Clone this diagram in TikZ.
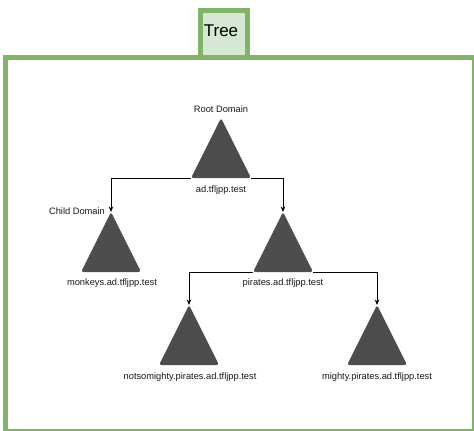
\documentclass[tikz,border=0pt]{standalone}
\usepackage{fontspec}
\setmainfont{Liberation Sans}
\usetikzlibrary{arrows.meta}
\definecolor{gborder}{HTML}{82B366}
\definecolor{gfill}{HTML}{D5E8D4}
\definecolor{trigray}{HTML}{4D4D4D}
\begin{document}
\begin{tikzpicture}[x=1pt,y=-1pt,
  tri/.style={fill=trigray,rounded corners=2.5pt},
  lbl/.style={inner sep=0pt,font=\fontsize{9.3}{11}\selectfont,text=black!90},
  conn/.style={draw=black,line width=0.8pt,-{Stealth[length=5.5pt,width=4.5pt]}},
  frame/.style={draw=gborder,line width=5pt}]
\useasboundingbox (0,0) rectangle (474,431);
% tab and main frame
\node[frame,fill=gfill,minimum width=47pt,minimum height=47pt,inner sep=0pt,anchor=north west,
  font=\fontsize{17}{20}\selectfont] (tab) at (197.5,7.5) {};
\node at (221,31) {\fontsize{17}{20}\selectfont Tree};
\node[frame,fill=white,minimum width=469pt,minimum height=374pt,inner sep=0pt,anchor=north west] (main) at (2.5,54.5) {};
% triangles: apex (A), left base (L), right base (R)
\coordinate (rA) at (221,118); \coordinate (rL) at (191,178); \coordinate (rR) at (251,178);
\coordinate (mA) at (111,212); \coordinate (mL) at (81,272);  \coordinate (mR) at (141,272);
\coordinate (pA) at (283,212); \coordinate (pL) at (253,272); \coordinate (pR) at (313,272);
\coordinate (nA) at (189,305); \coordinate (nL) at (159,365); \coordinate (nR) at (219,365);
\coordinate (gA) at (377,305); \coordinate (gL) at (347,365); \coordinate (gR) at (407,365);
\foreach \t in {r,m,p,n,g}{
  \fill[tri] (\t A) -- (\t R) -- (\t L) -- cycle;
}
% labels
\node[lbl] (rootlbl) at (221,109) {Root Domain};
\node[lbl] (rootname) at (221,190) {ad.tfljpp.test};
\node[lbl] (childlbl) at (77,211) {Child Domain};
\node[lbl] (mname) at (112,283) {monkeys.ad.tfljpp.test};
\node[lbl] (pname) at (283,283) {pirates.ad.tfljpp.test};
\node[lbl] (nname) at (190,377) {notsomighty.pirates.ad.tfljpp.test};
\node[lbl] (gname) at (377,377) {mighty.pirates.ad.tfljpp.test};
% connectors
\draw[conn] (rL) -| (mA);
\draw[conn] (rR) -| (pA);
\draw[conn] (pL) -| (nA);
\draw[conn] (pR) -| (gA);
\end{tikzpicture}
\end{document}
